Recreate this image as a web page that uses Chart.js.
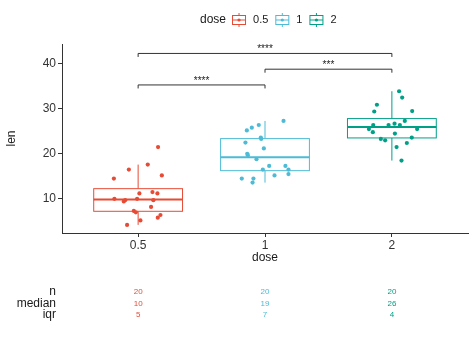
<!DOCTYPE html>
<html>
<head>
<meta charset="utf-8">
<script src="https://cdn.jsdelivr.net/npm/chart.js@4/dist/chart.umd.min.js"></script>
<style>
  html, body { margin: 0; padding: 0; background: #ffffff; }
  #wrap { width: 474px; height: 338px; }
</style>
</head>
<body>
<div id="wrap"><canvas id="chart" width="474" height="338"></canvas></div>
<script>
// Dose groups (x categories)
const doses = ['0.5', '1', '2'];

// Tooth length per dose group
const lenDose05 = [21.5, 17.6, 16.5, 15.2, 14.5, 11.2, 11.5, 11.2, 10.0, 9.4,
                   10.0, 9.7, 9.7, 8.2, 7.3, 7.0, 6.4, 5.8, 5.2, 4.2];
const lenDose1  = [27.3, 26.4, 25.8, 25.2, 23.6, 23.3, 22.5, 21.2, 20.0, 19.7,
                   18.8, 17.3, 17.3, 16.5, 16.5, 15.2, 15.5, 14.5, 14.5, 13.6];
const lenDose2  = [33.9, 32.5, 30.9, 29.4, 29.5, 27.3, 26.7, 26.4, 26.4, 26.4,
                   25.5, 25.5, 24.8, 24.5, 23.6, 23.3, 23.0, 22.4, 21.5, 18.5];

// Horizontal jitter of each point, in category units
const jitterDose05 = [0.157, 0.076, -0.073, 0.187, -0.191, 0.010, 0.113, 0.152, -0.187, -0.113,
                      -0.008, 0.120, -0.102, 0.102, -0.034, -0.018, 0.176, 0.155, 0.018, -0.087];
const jitterDose1  = [0.146, -0.049, -0.104, -0.143, -0.033, -0.030, -0.154, -0.009, -0.140, -0.135,
                      -0.067, 0.033, 0.161, -0.017, 0.185, 0.075, 0.185, -0.183, -0.091, -0.098];
const jitterDose2  = [0.057, 0.081, -0.118, -0.139, 0.160, 0.102, 0.021, -0.147, -0.026, 0.063,
                      -0.181, 0.199, -0.150, 0.024, 0.157, -0.087, -0.053, 0.118, 0.037, 0.076];

// Y axis tick values
const yTicks = [10, 20, 30, 40];

// Pairwise comparisons: [group a, group b, significance label]
const comparisons = [[0, 1, '****'], [1, 2, '***'], [0, 2, '****']];
// Height (len units) of each comparison bracket
const bracketLevels = [35.3, 38.8, 42.3];

// Summary table row names
const tableRows = ['n', 'median', 'iqr'];

const groupLens = [lenDose05, lenDose1, lenDose2];
const groupJitter = [jitterDose05, jitterDose1, jitterDose2];
const colors = ['#E64B35', '#4DBBD5', '#00A087'];
const FONT = '"Liberation Sans", Arial, Helvetica, sans-serif';
const BOX_HALF = 0.35;

// Quantile (linear interpolation between order statistics)
function quantile(sorted, p) {
  const h = (sorted.length - 1) * p;
  const lo = Math.floor(h), hi = Math.ceil(h);
  return sorted[lo] + (h - lo) * (sorted[hi] - sorted[lo]);
}
function boxStats(values) {
  const s = [...values].sort((a, b) => a - b);
  const q1 = quantile(s, 0.25), med = quantile(s, 0.5), q3 = quantile(s, 0.75);
  const iqr = q3 - q1;
  const lowFence = q1 - 1.5 * iqr, highFence = q3 + 1.5 * iqr;
  const inRange = s.filter(v => v >= lowFence && v <= highFence);
  return { n: s.length, q1, med, q3, iqr, lo: inRange[0], hi: inRange[inRange.length - 1] };
}
const stats = groupLens.map(boxStats);

// Boxes and whiskers, drawn beneath the jittered points
const boxPlugin = {
  id: 'boxes',
  beforeDatasetsDraw(chart) {
    const { ctx, scales: { x, y } } = chart;
    ctx.save();
    stats.forEach((s, i) => {
      const xl = x.getPixelForValue(i - BOX_HALF);
      const xr = x.getPixelForValue(i + BOX_HALF);
      const xc = x.getPixelForValue(i);
      ctx.strokeStyle = colors[i];
      ctx.lineWidth = 1;
      // whiskers
      ctx.beginPath();
      ctx.moveTo(xc, y.getPixelForValue(s.q3));
      ctx.lineTo(xc, y.getPixelForValue(s.hi));
      ctx.moveTo(xc, y.getPixelForValue(s.q1));
      ctx.lineTo(xc, y.getPixelForValue(s.lo));
      ctx.stroke();
      // box
      const yt = y.getPixelForValue(s.q3), yb = y.getPixelForValue(s.q1);
      ctx.fillStyle = '#ffffff';
      ctx.fillRect(xl, yt, xr - xl, yb - yt);
      ctx.strokeRect(xl, yt, xr - xl, yb - yt);
      // median
      ctx.lineWidth = 2;
      ctx.beginPath();
      const ym = y.getPixelForValue(s.med);
      ctx.moveTo(xl, ym);
      ctx.lineTo(xr, ym);
      ctx.stroke();
    });
    ctx.restore();
  }
};

// Significance brackets above the groups
const bracketPlugin = {
  id: 'brackets',
  afterDatasetsDraw(chart) {
    const { ctx, scales: { x, y } } = chart;
    ctx.save();
    ctx.strokeStyle = '#333333';
    ctx.lineWidth = 1;
    ctx.fillStyle = '#222222';
    ctx.font = '10px ' + FONT;
    ctx.textAlign = 'center';
    ctx.textBaseline = 'alphabetic';
    comparisons.forEach(([a, b, label], k) => {
      const xa = x.getPixelForValue(a), xb = x.getPixelForValue(b);
      const yl = y.getPixelForValue(bracketLevels[k]);
      ctx.beginPath();
      ctx.moveTo(xa, yl + 3.5);
      ctx.lineTo(xa, yl);
      ctx.lineTo(xb, yl);
      ctx.lineTo(xb, yl + 3.5);
      ctx.stroke();
      ctx.fillText(label, (xa + xb) / 2, yl - 1);
    });
    ctx.restore();
  }
};

// Legend at the top and the summary table under the x axis
const extrasPlugin = {
  id: 'extras',
  afterDraw(chart) {
    const { ctx, scales: { x } } = chart;
    ctx.save();
    // legend
    const ly = 20;
    ctx.textBaseline = 'middle';
    ctx.textAlign = 'left';
    ctx.fillStyle = '#1a1a1a';
    ctx.font = '12px ' + FONT;
    let lx = 200;
    ctx.fillText('dose', lx, ly);
    lx += ctx.measureText('dose').width + 6;
    ctx.font = '11px ' + FONT;
    doses.forEach((d, i) => {
      const kw = 13;
      ctx.strokeStyle = colors[i];
      ctx.fillStyle = colors[i];
      ctx.lineWidth = 1;
      ctx.strokeRect(lx + 0.5, ly - 4.5, kw, 9);
      ctx.beginPath();
      ctx.moveTo(lx + 0.5, ly);
      ctx.lineTo(lx + kw + 0.5, ly);
      ctx.moveTo(lx + kw / 2 + 0.5, ly - 7);
      ctx.lineTo(lx + kw / 2 + 0.5, ly - 4.5);
      ctx.moveTo(lx + kw / 2 + 0.5, ly + 4.5);
      ctx.lineTo(lx + kw / 2 + 0.5, ly + 7);
      ctx.stroke();
      ctx.beginPath();
      ctx.arc(lx + kw / 2 + 0.5, ly, 1.6, 0, Math.PI * 2);
      ctx.fill();
      lx += kw + 8;
      ctx.fillStyle = '#1a1a1a';
      ctx.fillText(d, lx, ly);
      lx += ctx.measureText(d).width + 7;
    });

    // summary table
    const rowY = [291.5, 303.5, 315];
    ctx.textAlign = 'right';
    ctx.font = '12px ' + FONT;
    ctx.fillStyle = '#1a1a1a';
    tableRows.forEach((r, k) => ctx.fillText(r, 56, rowY[k]));
    ctx.textAlign = 'center';
    ctx.font = '8px ' + FONT;
    stats.forEach((s, i) => {
      const xc = x.getPixelForValue(i);
      ctx.fillStyle = colors[i];
      const vals = [s.n, Math.round(s.med), Math.round(s.iqr)];
      vals.forEach((v, k) => ctx.fillText(String(v), xc, rowY[k]));
    });
    ctx.restore();
  }
};

const datasets = groupLens.map((lens, i) => ({
  label: doses[i],
  data: lens.map((v, j) => ({ x: i + groupJitter[i][j], y: v })),
  backgroundColor: colors[i],
  borderWidth: 0,
  pointRadius: 2.1,
  pointHoverRadius: 2.1
}));

new Chart(document.getElementById('chart'), {
  type: 'scatter',
  data: { datasets },
  plugins: [boxPlugin, bracketPlugin, extrasPlugin],
  options: {
    responsive: false,
    devicePixelRatio: 1,
    animation: false,
    events: [],
    layout: { padding: { top: 44, right: 6, bottom: 73, left: 0 } },
    plugins: { legend: { display: false }, tooltip: { enabled: false } },
    scales: {
      x: {
        type: 'linear',
        min: -0.6,
        max: 2.6,
        afterBuildTicks: (scale) => { scale.ticks = doses.map((d, i) => ({ value: i })); },
        afterFit: (scale) => { scale.height = 32; },
        ticks: {
          callback: (v) => doses[v] !== undefined ? doses[v] : '',
          font: { family: FONT, size: 12 },
          color: '#333333',
          padding: 1,
          maxRotation: 0
        },
        grid: { drawOnChartArea: false, drawTicks: true, tickLength: 4, color: '#333333' },
        border: { display: true, color: '#333333', width: 1 },
        title: { display: true, text: 'dose', font: { family: FONT, size: 12 }, color: '#1a1a1a', padding: 0 }
      },
      y: {
        min: 2.4,
        max: 44.4,
        afterBuildTicks: (scale) => { scale.ticks = yTicks.map(v => ({ value: v })); },
        afterFit: (scale) => { scale.width = 62; },
        ticks: {
          font: { family: FONT, size: 12 },
          color: '#333333',
          padding: 2
        },
        grid: { drawOnChartArea: false, drawTicks: true, tickLength: 4, color: '#333333' },
        border: { display: true, color: '#333333', width: 1 },
        title: { display: true, text: 'len', font: { family: FONT, size: 12 }, color: '#1a1a1a', padding: 4 }
      }
    }
  }
});
</script>
</body>
</html>
